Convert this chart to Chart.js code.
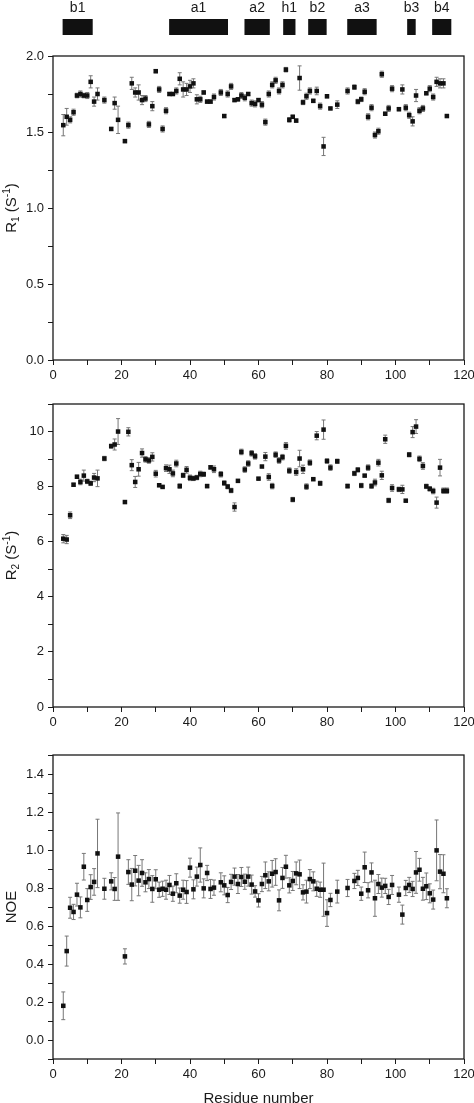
<!DOCTYPE html>
<html>
<head>
<meta charset="utf-8">
<script src="https://cdn.jsdelivr.net/npm/chart.js@4.4.1/dist/chart.umd.min.js"></script>
<style>
  html, body { margin: 0; padding: 0; background: #fff; }
  #page { position: relative; width: 474px; height: 1103px; overflow: hidden; }
  .box { position: absolute; left: 0; width: 474px; }
</style>
</head>
<body>
<div id="page">
  <div class="box" style="top:0;height:46px"><canvas id="ss"></canvas></div>
  <div class="box" style="top:46px;height:344px"><canvas id="r1"></canvas></div>
  <div class="box" style="top:394px;height:343px"><canvas id="r2"></canvas></div>
  <div class="box" style="top:745px;height:358px"><canvas id="noe"></canvas></div>
</div>
<script>
// secondary structure elements (residue ranges)
const ssNames = ['b1', 'a1', 'a2', 'h1', 'b2', 'a3', 'b3', 'b4'];
const ssStart = [2.9, 34, 56, 67.3, 74.6, 86, 103.5, 110.8];
const ssEnd = [11.5, 51, 63.2, 70.7, 79.8, 94.4, 105.8, 116.2];

const residues = [3, 4, 5, 6, 7, 8, 9, 10, 11, 12, 13, 15, 17, 18, 19,
  21, 22, 23, 24, 25, 26, 27, 28, 29, 30, 31, 32, 33, 34, 35, 36, 37, 38, 39, 40,
  41, 42, 43, 44, 45, 46, 47, 49, 50, 51, 52, 53, 54, 55, 56, 57, 58, 59, 60,
  61, 62, 63, 64, 65, 66, 67, 68, 69, 70, 71, 72, 73, 74, 75, 76, 77, 78, 79, 80,
  81, 83, 86, 88, 89, 90, 91, 92, 93, 94, 95, 96, 97, 98, 99,
  101, 102, 103, 104, 105, 106, 107, 108, 109, 110, 111, 112, 113, 114, 115];

const r1 = [1.545, 1.60, 1.58, 1.63, 1.74, 1.75, 1.74, 1.74, 1.83, 1.70, 1.75, 1.71, 1.52, 1.69, 1.58,
  1.44, 1.545, 1.82, 1.76, 1.76, 1.71, 1.72, 1.55, 1.67, 1.90, 1.78, 1.52, 1.64, 1.75, 1.75, 1.77, 1.85, 1.78, 1.78, 1.80,
  1.82, 1.715, 1.715, 1.76, 1.70, 1.70, 1.73, 1.76, 1.605, 1.75, 1.80, 1.71, 1.715, 1.74, 1.725, 1.75, 1.69, 1.685, 1.71,
  1.68, 1.565, 1.75, 1.81, 1.84, 1.77, 1.81, 1.91, 1.58, 1.60, 1.575, 1.855, 1.695, 1.735, 1.77, 1.705, 1.77, 1.67, 1.405, 1.735,
  1.655, 1.68, 1.77, 1.795, 1.70, 1.715, 1.765, 1.60, 1.66, 1.48, 1.505, 1.88, 1.62, 1.655, 1.785,
  1.65, 1.78, 1.66, 1.61, 1.57, 1.74, 1.64, 1.655, 1.755, 1.785, 1.73, 1.83, 1.82, 1.82, 1.605];
const r1Err = [0.07, 0.055, 0.02, 0.02, 0.015, 0.02, 0.015, 0.02, 0.04, 0.03, 0.04, 0.02, 0.01, 0.04, 0.09,
  0.01, 0.02, 0.04, 0.03, 0.05, 0.03, 0.02, 0.02, 0.03, 0.01, 0.02, 0.02, 0.02, 0.01, 0.01, 0.02, 0.04, 0.05, 0.04, 0.04,
  0.03, 0.03, 0.02, 0.01, 0.01, 0.01, 0.02, 0.02, 0.01, 0.02, 0.02, 0.01, 0.01, 0.02, 0.02, 0.01, 0.02, 0.02, 0.01,
  0.02, 0.02, 0.02, 0.02, 0.02, 0.02, 0.02, 0.015, 0.015, 0.01, 0.01, 0.08, 0.015, 0.02, 0.02, 0.01, 0.025, 0.02, 0.06, 0.01,
  0.005, 0.025, 0.02, 0.015, 0.015, 0.015, 0.02, 0.02, 0.02, 0.02, 0.02, 0.02, 0.01, 0.02, 0.02,
  0.01, 0.03, 0.02, 0.02, 0.03, 0.04, 0.02, 0.02, 0.01, 0.02, 0.02, 0.03, 0.03, 0.03, 0.005];

const r2 = [6.11, 6.08, 6.96, 8.07, 8.36, 8.17, 8.40, 8.19, 8.12, 8.33, 8.30, 9.02, 9.47, 9.53, 10.00,
  7.44, 9.99, 8.78, 8.17, 8.63, 9.22, 8.99, 8.95, 9.08, 8.47, 8.05, 7.99, 8.67, 8.63, 8.48, 8.84, 8.02, 8.41, 8.61, 8.32,
  8.30, 8.33, 8.46, 8.45, 8.02, 8.70, 8.63, 8.45, 8.13, 8.00, 7.86, 7.26, 8.21, 9.26, 8.62, 8.84, 9.21, 9.10, 8.29,
  8.73, 9.09, 8.35, 8.02, 9.16, 8.95, 9.07, 9.48, 8.58, 7.53, 8.53, 9.02, 8.63, 8.00, 8.87, 8.27, 9.85, 8.12, 10.07, 8.93,
  8.69, 8.92, 8.02, 8.48, 8.61, 8.04, 8.40, 8.69, 8.02, 8.15, 8.87, 8.41, 9.72, 7.50, 7.95,
  7.90, 7.90, 7.49, 9.16, 9.98, 10.18, 9.01, 8.75, 8.01, 7.92, 7.84, 7.42, 8.69, 7.85, 7.85];
const r2Err = [0.15, 0.15, 0.12, 0.05, 0.05, 0.1, 0.2, 0.08, 0.08, 0.15, 0.3, 0.08, 0.07, 0.2, 0.47,
  0.03, 0.15, 0.2, 0.2, 0.25, 0.15, 0.1, 0.1, 0.15, 0.12, 0.05, 0.03, 0.12, 0.15, 0.12, 0.12, 0.08, 0.08, 0.12, 0.1,
  0.08, 0.08, 0.1, 0.08, 0.06, 0.06, 0.12, 0.1, 0.08, 0.08, 0.08, 0.15, 0.03, 0.1, 0.1, 0.1, 0.1, 0.1, 0.03,
  0.03, 0.15, 0.12, 0.1, 0.1, 0.1, 0.1, 0.12, 0.1, 0.08, 0.12, 0.3, 0.15, 0.1, 0.1, 0.03, 0.15, 0.08, 0.35, 0.08,
  0.1, 0.08, 0.07, 0.08, 0.08, 0.08, 0.03, 0.1, 0.08, 0.12, 0.12, 0.15, 0.15, 0.08, 0.12,
  0.08, 0.15, 0.03, 0.08, 0.2, 0.25, 0.1, 0.12, 0.08, 0.08, 0.1, 0.2, 0.3, 0.1, 0.1];

const noe = [0.18, 0.468, 0.696, 0.674, 0.765, 0.698, 0.912, 0.737, 0.805, 0.832, 0.982, 0.796, 0.835, 0.795, 0.965,
  0.44, 0.884, 0.818, 0.891, 0.839, 0.879, 0.830, 0.847, 0.795, 0.846, 0.791, 0.796, 0.791, 0.816, 0.770, 0.825, 0.760, 0.791, 0.779, 0.907,
  0.793, 0.860, 0.921, 0.798, 0.879, 0.795, 0.802, 0.830, 0.814, 0.763, 0.832, 0.860, 0.821, 0.858, 0.833, 0.860, 0.818, 0.782, 0.735,
  0.821, 0.867, 0.835, 0.875, 0.884, 0.735, 0.853, 0.912, 0.814, 0.837, 0.877, 0.872, 0.777, 0.781, 0.847, 0.835, 0.796, 0.791, 0.791, 0.668,
  0.737, 0.781, 0.800, 0.837, 0.853, 0.770, 0.909, 0.788, 0.882, 0.746, 0.821, 0.802, 0.811, 0.753, 0.816,
  0.765, 0.660, 0.800, 0.816, 0.795, 0.882, 0.896, 0.796, 0.809, 0.772, 0.739, 0.998, 0.886, 0.875, 0.746];
const noeErr = [0.073, 0.079, 0.055, 0.04, 0.06, 0.055, 0.07, 0.06, 0.065, 0.07, 0.18, 0.055, 0.045, 0.06, 0.23,
  0.04, 0.065, 0.085, 0.08, 0.08, 0.07, 0.05, 0.05, 0.07, 0.05, 0.04, 0.04, 0.05, 0.05, 0.04, 0.05, 0.04, 0.05, 0.06, 0.05,
  0.05, 0.05, 0.09, 0.05, 0.04, 0.05, 0.04, 0.05, 0.05, 0.04, 0.04, 0.045, 0.05, 0.05, 0.04, 0.05, 0.05, 0.03, 0.035,
  0.04, 0.07, 0.05, 0.07, 0.07, 0.055, 0.055, 0.06, 0.04, 0.05, 0.06, 0.075, 0.04, 0.06, 0.05, 0.05, 0.04, 0.04, 0.14, 0.07,
  0.035, 0.06, 0.045, 0.04, 0.04, 0.035, 0.08, 0.04, 0.05, 0.095, 0.05, 0.05, 0.04, 0.04, 0.05,
  0.04, 0.05, 0.04, 0.04, 0.04, 0.11, 0.06, 0.06, 0.07, 0.05, 0.05, 0.16, 0.09, 0.1, 0.05];

const FONT = 'Liberation Sans, Arial, sans-serif';
const INK = '#1a1a1a';

// gray error bars with caps, drawn under the markers
const errorBars = {
  id: 'errorBars',
  beforeDatasetsDraw(chart) {
    const {ctx, scales: {x, y}} = chart;
    chart.data.datasets.forEach(ds => {
      if (!ds.errors) return;
      ctx.save();
      ctx.strokeStyle = '#777';
      ctx.lineWidth = 1;
      ds.data.forEach((p, i) => {
        const px = x.getPixelForValue(p.x);
        const top = y.getPixelForValue(p.y + ds.errors[i]);
        const bot = y.getPixelForValue(p.y - ds.errors[i]);
        ctx.beginPath();
        ctx.moveTo(px, top); ctx.lineTo(px, bot);
        ctx.moveTo(px - 2, top); ctx.lineTo(px + 2, top);
        ctx.moveTo(px - 2, bot); ctx.lineTo(px + 2, bot);
        ctx.stroke();
      });
      ctx.restore();
    });
  }
};

// box round the plot area + axis titles
const frame = {
  id: 'frame',
  afterDraw(chart, args, opts) {
    const {ctx, chartArea: a} = chart;
    ctx.save();
    ctx.strokeStyle = INK;
    ctx.lineWidth = 1.3;
    ctx.strokeRect(a.left, a.top, a.right - a.left, a.bottom - a.top);

    // y title, rotated, with sub/superscripts
    if (opts.yTitle) {
      let total = 0;
      opts.yTitle.forEach(part => {
        ctx.font = (part.sub || part.sup ? 10 : 15) + 'px ' + FONT;
        part.w = ctx.measureText(part.t).width;
        total += part.w;
      });
      ctx.translate(12, (a.top + a.bottom) / 2);
      ctx.rotate(-Math.PI / 2);
      ctx.fillStyle = INK;
      ctx.textBaseline = 'middle';
      ctx.textAlign = 'left';
      let cx = -total / 2;
      opts.yTitle.forEach(part => {
        ctx.font = (part.sub || part.sup ? 10 : 15) + 'px ' + FONT;
        const dy = part.sub ? 4 : part.sup ? -5 : 0;
        ctx.fillText(part.t, cx, dy);
        cx += part.w;
      });
      ctx.setTransform(1, 0, 0, 1, 0, 0);
    }
    ctx.restore();

    if (opts.xTitle) {
      ctx.save();
      ctx.fillStyle = INK;
      ctx.font = '15px ' + FONT;
      ctx.textAlign = 'center';
      ctx.textBaseline = 'alphabetic';
      ctx.fillText(opts.xTitle, (a.left + a.right) / 2, chart.height - 0.5);
      ctx.restore();
    }
  }
};

function makePanel(id, values, errors, yOpts, axisHeight, yTitle, xTitle) {
  return new Chart(document.getElementById(id), {
    type: 'scatter',
    data: {
      datasets: [{
        data: residues.map((r, i) => ({x: r, y: values[i]})),
        errors: errors,
        pointStyle: 'rect',
        pointRadius: 3.2,
        backgroundColor: '#111',
        borderWidth: 0
      }]
    },
    options: {
      responsive: true,
      maintainAspectRatio: false,
      animation: false,
      events: [],
      layout: { padding: { top: 10, right: 10, left: 0, bottom: 0 } },
      scales: {
        x: {
          type: 'linear',
          min: 0,
          max: 120,
          border: { display: false },
          grid: { drawOnChartArea: false, drawTicks: true, tickLength: 5, color: INK },
          ticks: {
            stepSize: 10,
            autoSkip: false,
            maxRotation: 0,
            padding: 3,
            color: INK,
            font: { family: FONT, size: 13 },
            callback: v => (v % 20 === 0 ? String(v) : '')
          },
          afterFit(scale) {
            scale.height = axisHeight;
            scale.paddingLeft = 0;
            scale.paddingRight = 0;
          }
        },
        y: {
          min: yOpts.min,
          max: yOpts.max,
          border: { display: false },
          grid: { drawOnChartArea: false, drawTicks: true, tickLength: 5, color: INK },
          ticks: {
            stepSize: yOpts.step,
            autoSkip: false,
            padding: 4,
            color: INK,
            font: { family: FONT, size: 13 },
            callback: yOpts.label
          },
          afterFit(scale) {
            scale.width = 53;
            scale.paddingTop = 0;
            scale.paddingBottom = 0;
          }
        }
      },
      plugins: {
        legend: { display: false },
        tooltip: { enabled: false },
        frame: { yTitle: yTitle, xTitle: xTitle }
      }
    },
    plugins: [errorBars, frame]
  });
}

makePanel('r1', r1, r1Err, {
  min: 0, max: 2.0, step: 0.25,
  label: v => (Math.round(v * 100) % 50 === 0 ? v.toFixed(1) : '')
}, 30, [{t: 'R'}, {t: '1', sub: true}, {t: ' (S'}, {t: '-1', sup: true}, {t: ')'}]);

makePanel('r2', r2, r2Err, {
  min: 0, max: 11, step: 1,
  label: v => (Math.round(v) % 2 === 0 ? String(Math.round(v)) : '')
}, 30, [{t: 'R'}, {t: '2', sub: true}, {t: ' (S'}, {t: '-1', sup: true}, {t: ')'}]);

makePanel('noe', noe, noeErr, {
  min: -0.1, max: 1.5, step: 0.1,
  label: v => {
    const k = Math.round(v * 10);
    return k % 2 === 0 ? (k / 10).toFixed(1) : '';
  }
}, 44, [{t: 'NOE'}], 'Residue number');

// secondary structure bars above the first panel
const ssLabels = {
  id: 'ssLabels',
  afterDatasetsDraw(chart) {
    const {ctx} = chart;
    ctx.save();
    ctx.fillStyle = INK;
    ctx.font = '14px ' + FONT;
    ctx.textAlign = 'center';
    ctx.textBaseline = 'middle';
    chart.data.datasets.forEach((ds, i) => {
      const bar = chart.getDatasetMeta(i).data[0];
      ctx.fillText(ds.label, (bar.x + bar.base) / 2, 8);
    });
    ctx.restore();
  }
};

new Chart(document.getElementById('ss'), {
  type: 'bar',
  data: {
    labels: ['ss'],
    datasets: ssNames.map((name, i) => ({
      label: name,
      data: [[ssStart[i], ssEnd[i]]],
      backgroundColor: '#111',
      barThickness: 16,
      grouped: false
    }))
  },
  options: {
    indexAxis: 'y',
    responsive: true,
    maintainAspectRatio: false,
    animation: false,
    events: [],
    layout: { padding: { left: 53, right: 10, top: 19, bottom: 11 } },
    scales: {
      x: { type: 'linear', min: 0, max: 120, display: false },
      y: { display: false }
    },
    plugins: { legend: { display: false }, tooltip: { enabled: false } }
  },
  plugins: [ssLabels]
});
</script>
</body>
</html>
